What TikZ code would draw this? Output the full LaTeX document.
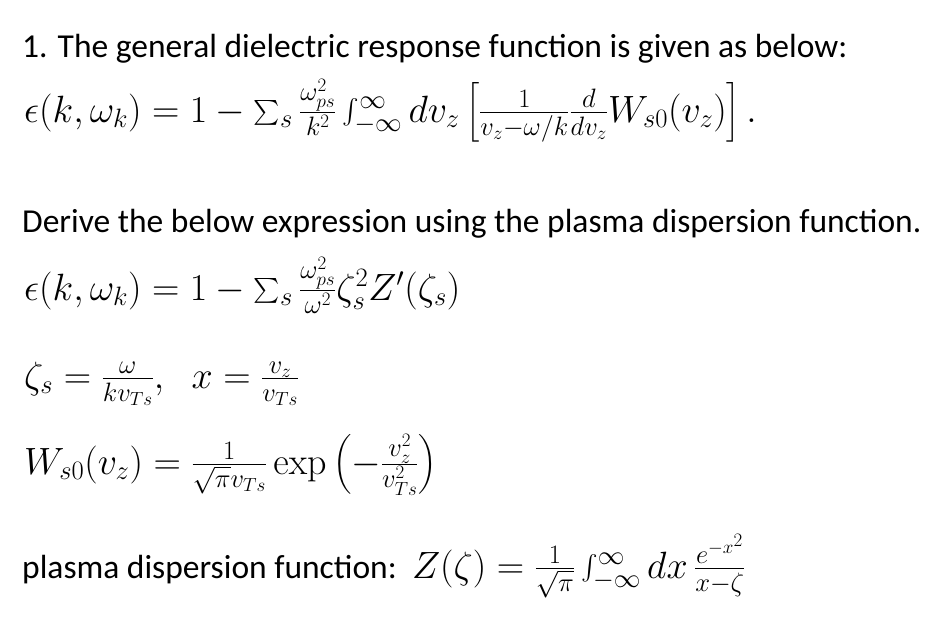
\RequirePackage{fix-cm}
\documentclass[tikz,border=0pt]{standalone}
\usepackage{amsmath}
\usepackage[no-math]{fontspec}
\setmainfont{Carlito}
\begin{document}
\begin{tikzpicture}[x=1pt,y=1pt,
  txt/.style={anchor=base west,inner sep=0pt,font=\fontsize{33.5}{40}\selectfont},
  eq/.style={anchor=base west,inner sep=0pt,font=\fontsize{38}{46}\selectfont}]
\useasboundingbox (0,0) rectangle (944,-624);
\node[txt] (l1) at (22,-57) {1. The general dielectric response function is given as below:};
\node[eq] (e1) at (24,-122) {$\epsilon(k,\omega_k)=1-\sum_s\frac{\omega_{ps}^2}{k^2}\int_{-\infty}^{\infty}dv_z\left[\frac{1}{v_z-\omega/k}\frac{d}{dv_z}W_{s0}(v_z)\right].$};
\node[txt] (l2) at (22,-232) {Derive the below expression using the plasma dispersion function.};
\node[eq] (e2) at (24,-300) {$\epsilon(k,\omega_k)=1-\sum_s\frac{\omega_{ps}^2}{\omega^2}\zeta_s^2Z'(\zeta_s)$};
\node[eq] (e3) at (24,-388) {$\zeta_s=\frac{\omega}{kv_{Ts}},\;\; x=\frac{v_z}{v_{Ts}}$};
\node[eq] (e4) at (24,-474) {$W_{s0}(v_z)=\frac{1}{\sqrt{\pi}v_{Ts}}\exp\left(-\frac{v_z^2}{v_{Ts}^2}\right)$};
\node[txt] (l3) at (22,-578) {plasma dispersion function:\ \ \fontsize{38}{46}\selectfont$Z(\zeta)=\frac{1}{\sqrt{\pi}}\int_{-\infty}^{\infty}dx\,\frac{e^{-x^2}}{x-\zeta}$};
\end{tikzpicture}
\end{document}
